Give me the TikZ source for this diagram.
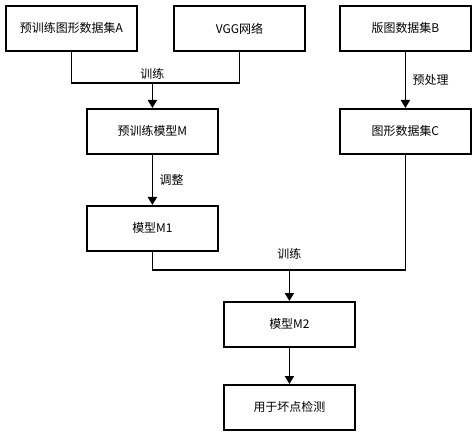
\documentclass[tikz,border=0pt]{standalone}
\usepackage{fontspec}
\setmainfont{Noto Sans CJK SC}
\usetikzlibrary{arrows.meta}
\begin{document}
\begin{tikzpicture}[x=1bp,y=-1bp,
  box/.style={draw=black,line width=1.8bp,minimum width=131bp,minimum height=45bp,inner sep=0pt,font=\fontsize{12}{14}\selectfont,anchor=north west},
  ln/.style={line width=1.8bp},
  arr/.style={ln,-{Triangle[length=8bp,width=9bp]}},
  lbl/.style={font=\fontsize{12}{14}\selectfont}]
\useasboundingbox (0,0) rectangle (474,433);
\node[box] (A) at (5,5) {预训练图形数据集A};
\node[box] (V) at (173,5) {VGG网络};
\node[box] (B) at (339,5) {版图数据集B};
\node[box] (M) at (86,108) {预训练模型M};
\node[box] (C) at (339,108) {图形数据集C};
\node[box] (M1) at (86,205) {模型M1};
\node[box] (M2) at (223,301) {模型M2};
\node[box] (D) at (223,384) {用于坏点检测};
\coordinate (j1) at (M.north |- 0,83);
\coordinate (j2) at (M2.north |- 0,270);
\draw[ln] (A.south) -- (A.south |- j1) -- (V.south |- j1) -- (V.south);
\draw[arr] (j1) -- (M.north);
\node[lbl,anchor=south] at ([yshift=0bp]j1) {训练};
\draw[arr] (B.south) -- node[lbl,right=3bp] {预处理} (C.north);
\draw[arr] (M.south) -- node[lbl,right=3bp] {调整} (M1.north);
\draw[ln] (M1.south) -- (M1.south |- j2) -- (C.south |- j2) -- (C.south);
\draw[arr] (j2) -- (M2.north);
\node[lbl,anchor=south] at ([yshift=7bp]j2) {训练};
\draw[arr] (M2.south) -- (D.north);
\end{tikzpicture}
\end{document}
